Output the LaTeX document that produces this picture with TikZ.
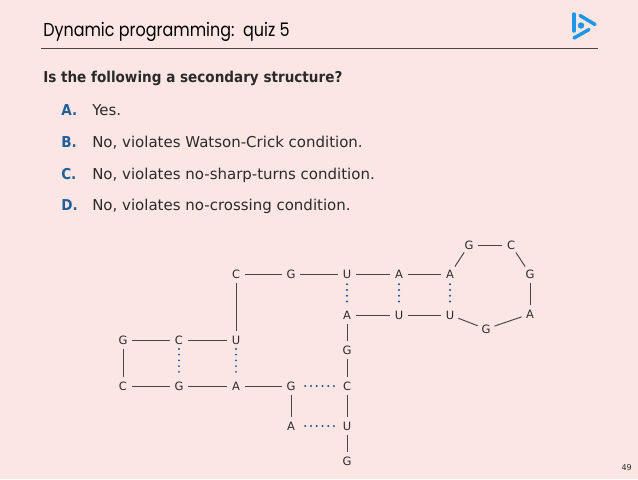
\documentclass[tikz,border=0pt]{standalone}
\usepackage{fontspec}
\setmainfont{DejaVu Sans}
\newfontfamily\titlefont[FakeStretch=0.855]{Poppins}
\newfontfamily\boldnarrow[FakeStretch=0.905]{DejaVu Sans Bold}
\definecolor{bgpink}{HTML}{FBE6E3}
\definecolor{inkc}{HTML}{2A2A2A}
\definecolor{letterblue}{HTML}{1F5F9B}
\definecolor{pairblue}{HTML}{1F4F9C}
\definecolor{logoblue}{HTML}{1E96E8}
\definecolor{linegray}{HTML}{4A4444}
\tikzset{
  base/.style={circle,inner sep=0pt,minimum size=13pt,text=inkc,font=\fontsize{8.6pt}{9pt}\selectfont},
  bond/.style={draw=linegray,line width=0.72pt},
  pair/.style={draw=pairblue,line width=1.6pt,line cap=round,dash pattern=on 0pt off 4.3pt},
  bodytext/.style={anchor=base west,inner sep=0pt,text=inkc,font=\fontsize{11.24pt}{13pt}\selectfont},
  choice/.style={anchor=base west,inner sep=0pt,text=letterblue,font=\fontsize{11.24pt}{13pt}\selectfont\boldnarrow}
}
\begin{document}
\begin{tikzpicture}[x=0.75pt,y=-0.75pt]
\useasboundingbox (0,0) rectangle (638,479);
\fill[bgpink] (0,0) rectangle (638,479);
\node[anchor=base west,inner sep=0pt,text=black,font=\fontsize{14pt}{15pt}\selectfont\titlefont] (title) at (43,36) {Dynamic programming:\ \ quiz 5};
\coordinate (ruleL) at (41,48.5);
\coordinate (ruleR) at (598,48.5);
\draw[draw=linegray,line width=0.7pt] (ruleL) -- (ruleR);
\node[bodytext,font=\fontsize{11.24pt}{13pt}\selectfont\boldnarrow] (q) at (43,82) {Is the following a secondary structure?};
\node[choice] (la) at (61,115) {A.};
\node[choice] (lb) at (61,147) {B.};
\node[choice] (lc) at (61,179) {C.};
\node[choice] (ld) at (61,210) {D.};
\node[bodytext] (ta) at (92,115) {Yes.};
\node[bodytext] (tb) at (92,147) {No, violates Watson-Crick condition.};
\node[bodytext] (tc) at (92,179) {No, violates no-sharp-turns condition.};
\node[bodytext] (td) at (92,210) {No, violates no-crossing condition.};
% logo
\draw[logoblue,line width=2.6pt,line cap=round] (574,14) -- (574,31);
\draw[logoblue,line width=2.6pt,line cap=round] (580,15.5) -- (595,24.5);
\draw[logoblue,line width=2.6pt,line cap=round] (574,38) -- (589,29.5);
\fill[logoblue] (581,25.5) circle (3.2);
% bases
\node[base] (c1) at (236,274) {C};
\node[base] (g1) at (291,274) {G};
\node[base] (u1) at (347,274) {U};
\node[base] (a1) at (399,274) {A};
\node[base] (a2) at (450,274) {A};
\node[base] (g2) at (469,245) {G};
\node[base] (c2) at (511,245) {C};
\node[base] (g3) at (530,274) {G};
\node[base] (a3) at (530,314) {A};
\node[base] (g4) at (486,329) {G};
\node[base] (u2) at (450,315) {U};
\node[base] (u3) at (399,315) {U};
\node[base] (a4) at (347,315) {A};
\node[base] (g5) at (347,350) {G};
\node[base] (c3) at (347,386) {C};
\node[base] (u4) at (347,426) {U};
\node[base] (g6) at (347,461) {G};
\node[base] (g7) at (291,386) {G};
\node[base] (a5) at (291,426) {A};
\node[base] (a6) at (236,386) {A};
\node[base] (g8) at (179,386) {G};
\node[base] (c4) at (123,386) {C};
\node[base] (g9) at (123,340) {G};
\node[base] (c5) at (179,340) {C};
\node[base] (u5) at (236,340) {U};
% backbone
\foreach \p/\q in {c1/g1,g1/u1,u1/a1,a1/a2,a2/g2,g2/c2,c2/g3,g3/a3,a3/g4,g4/u2,u2/u3,u3/a4,a4/g5,g5/c3,c3/u4,u4/g6,g7/a5,a6/g7,g8/a6,c4/g8,g9/c4,g9/c5,c5/u5,u5/c1}
  \draw[bond] (\p) -- (\q);
% pairs
\foreach \p/\q in {u1/a4,a1/u3,a2/u2}
  \draw[pair,shorten <=1pt,shorten >=3pt] (\p) -- (\q);
\foreach \p/\q in {c5/g8,u5/a6}
  \draw[pair] (\p) -- (\q);
\foreach \p/\q in {g7/c3,a5/u4}
  \draw[pair,shorten <=4pt,shorten >=3pt] (\p) -- (\q);
\node[anchor=base east,inner sep=0pt,text=inkc,font=\fontsize{6pt}{7pt}\selectfont] (pg) at (632,470) {49};
\end{tikzpicture}
\end{document}
